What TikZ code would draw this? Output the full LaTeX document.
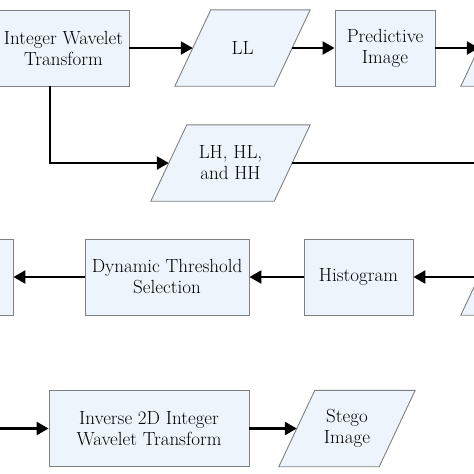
\documentclass[tikz,border=0pt]{standalone}
\usetikzlibrary{arrows.meta,shapes,positioning,backgrounds}
\definecolor{boxfill}{HTML}{EEF4FB}
\definecolor{boxline}{HTML}{808080}
\tikzset{
  process/.style   = {draw=boxline, fill=boxfill, line width=0.9pt, align=center,
                      minimum height=76pt, inner sep=2pt, font=\fontsize{19}{21}\selectfont},
  data/.style      = {align=center, minimum height=76pt, inner sep=2pt,
                      font=\fontsize{19}{21}\selectfont},
  data shape/.style = {draw=boxline, fill=boxfill, line width=0.9pt},
  flow/.style      = {-{Triangle[length=12pt,width=13pt]}, line width=2.5pt, black},
}
\begin{document}
\begin{tikzpicture}[x=1pt,y=-1pt]
      \useasboundingbox (0,0) rectangle (474,474);
      \clip (0,0) rectangle (474,474);
      %first row
      \node[process, minimum width=131pt] (iwt) at (63.5,48) {Integer Wavelet\\Transform};
      \node[data, minimum width=99pt] (ll) at (242.5,48) {LL};
      \node[process, minimum width=100pt] (pred) at (385,48) {Predictive\\Image};
      \node[data, minimum width=99pt] (rdata1) at (528.5,48) {};
      %second row
      \node[data, minimum width=123pt] (lh) at (230.5,163) {LH, HL,\\and HH};
      \coordinate (lh_out) at (490,163);
      %third row
      \node[process, minimum width=100pt] (lbox) at (-37,277) {};
      \node[process, minimum width=164pt] (dts) at (167,277) {Dynamic Threshold\\Selection};
      \node[process, minimum width=109pt] (hist) at (358.5,277) {Histogram};
      \node[data, minimum width=99pt] (rdata3) at (528.5,277) {};
      %fourth row
      \coordinate (inv_in) at (-10,428.5);
      \node[process, minimum width=200pt] (inv) at (149,428.5) {Inverse 2D Integer\\Wavelet Transform};
      \node[data, minimum width=100pt] (stego) at (347,428.5) {Stego\\Image};

      %slanted data boxes behind their text
      \begin{scope}[on background layer]
        \foreach \n in {ll,rdata1,lh,rdata3,stego}
          \draw[data shape] ([xshift=-18pt]\n.south west) -- ([xshift=-18pt]\n.south east)
            -- ([xshift=18pt]\n.north east) -- ([xshift=18pt]\n.north west) -- cycle;
      \end{scope}

      \draw[flow] (iwt) -- (ll);
      \draw[flow] (ll) -- (pred);
      \draw[flow] (pred) -- (rdata1);
      \draw[flow] ([xshift=-13.5pt]iwt.south) |- (lh);
      \draw[line width=2.5pt] (lh) -- (lh_out);
      \draw[flow] (rdata3) -- (hist);
      \draw[flow] (hist) -- (dts);
      \draw[flow] (dts) -- (lbox);
      \draw[flow] (inv_in) -- (inv);
      \draw[flow] (inv) -- (stego);
\end{tikzpicture}
\end{document}
